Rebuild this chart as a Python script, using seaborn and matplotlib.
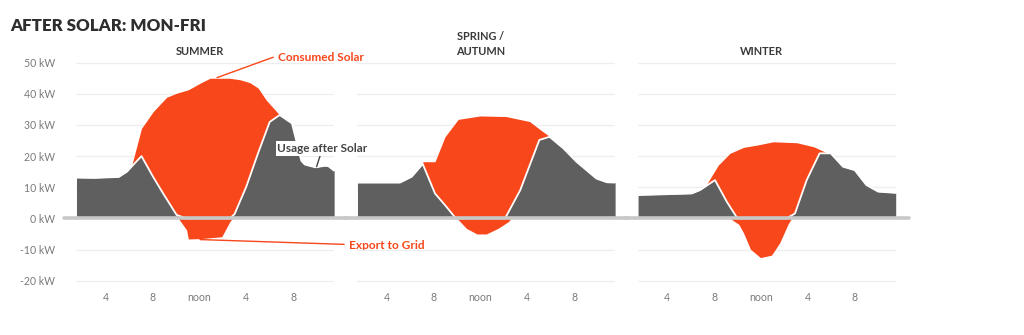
import matplotlib
matplotlib.use("Agg")
import matplotlib.pyplot as plt
import pandas as pd
import seaborn as sns

# ---------------- data ----------------
season_titles = ["SUMMER", "SPRING /\nAUTUMN", "WINTER"]

# usage after solar (grey area), kW
summer_net_hours = [1.5, 3.0, 5.1, 5.8, 6.2, 7.05, 8.05, 8.9, 10.05, 10.9, 14.6, 15.0, 16.0, 17.0,
                    18.0, 18.85, 19.9, 20.7, 21.0, 21.9, 22.7, 23.0, 23.5]
summer_net_kw = [13.1, 13.0, 13.3, 15.0, 16.6, 20.0, 13.3, 8.0, 1.1, 0.0, 0.0, 1.4, 10.2, 20.9,
                 31.0, 33.2, 30.5, 18.5, 17.3, 16.4, 16.9, 16.8, 15.3]
# total consumption = usage after solar + consumed solar (top of orange area), kW
summer_top_hours = [6.2, 7.05, 8.05, 9.2, 10.05, 11.05, 12.05, 12.9, 14.6, 15.5, 16.3, 17.0, 17.7, 18.85]
summer_top_kw = [16.8, 28.9, 34.3, 38.9, 40.2, 41.3, 43.4, 45.0, 45.0, 44.5, 43.6, 41.9, 38.0, 33.2]
# export to grid (negative), kW
summer_exp_hours = [10.2, 10.9, 11.05, 12.05, 13.9, 14.6, 14.8]
summer_exp_kw = [0.0, -3.7, -6.6, -6.5, -5.9, -1.0, 0.0]

spring_net_hours = [1.5, 5.13, 6.13, 7.07, 8.12, 8.97, 9.9, 14.1, 15.4, 17.03, 17.9, 19.08, 20.2,
                    21.9, 22.8, 23.5]
spring_net_kw = [11.5, 11.5, 13.4, 17.5, 8.0, 4.3, 0.0, 0.0, 9.1, 25.2, 26.2, 22.5, 18.2,
                 12.8, 11.6, 11.5]
spring_top_hours = [7.07, 8.12, 8.97, 10.1, 11.96, 14.2, 16.2, 17.1, 17.8]
spring_top_kw = [18.2, 18.2, 26.2, 31.8, 32.9, 32.7, 31.1, 28.5, 26.6]
spring_exp_hours = [10.0, 10.8, 11.7, 12.5, 13.5, 14.4, 14.6]
spring_exp_kw = [0.0, -3.2, -5.0, -5.0, -3.2, -1.0, 0.0]

winter_net_hours = [1.5, 6.08, 6.79, 8.07, 9.07, 9.92, 10.1, 14.2, 14.9, 15.9, 17.0, 17.95, 19.0,
                    20.0, 21.0, 22.0, 23.5]
winter_net_kw = [7.5, 8.0, 9.1, 12.3, 5.4, 0.4, 0.0, 0.0, 1.6, 12.3, 20.9, 20.9, 16.6,
                 15.5, 10.7, 8.6, 8.2]
winter_top_hours = [7.36, 8.35, 9.35, 10.5, 11.6, 13.05, 15.05, 16.5, 17.6]
winter_top_kw = [11.0, 17.1, 20.9, 22.8, 23.5, 24.6, 24.3, 23.0, 21.1]
winter_exp_hours = [9.35, 10.1, 10.5, 11.1, 11.95, 12.9, 13.6, 14.3, 14.6]
winter_exp_kw = [0.0, -1.9, -4.6, -9.9, -12.6, -11.8, -7.8, -1.9, 0.0]

y_ticks = [-20, -10, 0, 10, 20, 30, 40, 50]
y_tick_labels = [f"{v} kW" for v in y_ticks]
x_ticks = [4, 8, 12, 16, 20]
x_tick_labels = ["4", "8", "noon", "4", "8"]

# ---------------- style ----------------
ORANGE = "#F8471A"
GREY = "#5F5F5F"
ZERO = "#C8C8C8"
GRID = "#EEEEEE"
TICK = "#7A7A7A"
DARK = "#2E2E2E"

sns.set_theme(style="white")
plt.rcParams["font.family"] = ["Lato", "DejaVu Sans"]

fig = plt.figure(figsize=(10.24, 3.35), dpi=100)

panel_lefts = [0.0747, 0.3491, 0.6231]
panel_w = 0.2516
bottom, height = 0.1436, 0.6878

seasons = [
    (summer_net_hours, summer_net_kw, summer_top_hours, summer_top_kw, summer_exp_hours, summer_exp_kw),
    (spring_net_hours, spring_net_kw, spring_top_hours, spring_top_kw, spring_exp_hours, spring_exp_kw),
    (winter_net_hours, winter_net_kw, winter_top_hours, winter_top_kw, winter_exp_hours, winter_exp_kw),
]

axes = []
for i, (title, (nh, nk, th, tk, eh, ek)) in enumerate(zip(season_titles, seasons)):
    ax = fig.add_axes([panel_lefts[i], bottom, panel_w, height])
    axes.append(ax)
    ax.set_xlim(1.5, 23.5)
    ax.set_ylim(-22, 52)
    ax.set_yticks(y_ticks)
    ax.yaxis.grid(True, color=GRID, lw=0.9)
    ax.set_axisbelow(True)

    ax.fill_between(th, 0, tk, color=ORANGE, lw=0, zorder=2)
    ax.fill_between(eh, ek, 0, color=ORANGE, lw=0, zorder=2)
    ax.fill_between(nh, 0, nk, color=GREY, lw=0, zorder=3)
    df = pd.DataFrame({"hour": nh, "kw": nk})
    sns.lineplot(data=df, x="hour", y="kw", ax=ax, color="white", lw=1.3,
                 estimator=None, sort=False, zorder=4)
    ax.axhline(0, xmin=-0.05, xmax=1.05, color=ZERO, lw=2.6, zorder=5, clip_on=False)

    ax.set_xticks(x_ticks)
    ax.set_xticklabels(x_tick_labels)
    ax.set_xlabel("")
    ax.set_ylabel("")
    if i == 0:
        ax.set_yticklabels(y_tick_labels)
    else:
        ax.set_yticklabels([])
    ax.tick_params(axis="both", length=0, labelsize=7.6, colors=TICK)
    ax.tick_params(axis="x", pad=4)
    ax.tick_params(axis="y", pad=15.5)
    for s in ax.spines.values():
        s.set_visible(False)
    ax.patch.set_alpha(0)

    ax.text(12, 51.8, title, ha="center", va="bottom", fontsize=7.9, fontweight="bold",
            color="#3A3A3A", linespacing=1.45, clip_on=False)

ax0 = axes[0]
ax0.annotate("Consumed Solar", xy=(13.5, 45.2), xytext=(18.7, 51.7),
             ha="left", va="center", fontsize=8.6, fontweight="bold", color=ORANGE,
             arrowprops=dict(arrowstyle="-", color=ORANGE, lw=1.0, shrinkA=1, shrinkB=0,
                             connectionstyle="angle,angleA=0,angleB=20,rad=0"),
             annotation_clip=False, zorder=6)
ax0.annotate("Export to Grid", xy=(12.05, -6.8), xytext=(24.75, -8.8),
             ha="left", va="center", fontsize=8.6, fontweight="bold", color=ORANGE,
             arrowprops=dict(arrowstyle="-", color=ORANGE, lw=1.0, shrinkA=1, shrinkB=0),
             annotation_clip=False, zorder=6)
ax0.annotate("Usage after Solar", xy=(22.0, 16.6), xytext=(18.65, 22.5),
             ha="left", va="center", fontsize=8.5, fontweight="bold", color="#444444",
             bbox=dict(boxstyle="square,pad=0.15", fc="white", ec="none"),
             arrowprops=dict(arrowstyle="-", color="#444444", lw=1.0, shrinkA=0, shrinkB=0,
                             relpos=(0.5, 0.5)),
             annotation_clip=False, zorder=7)

fig.text(10 / 1024, 1 - 26 / 335, "AFTER SOLAR: MON-FRI", ha="left", va="center",
         fontsize=12.2, fontweight="heavy", color=DARK)

fig.savefig("out.png", dpi=100)
